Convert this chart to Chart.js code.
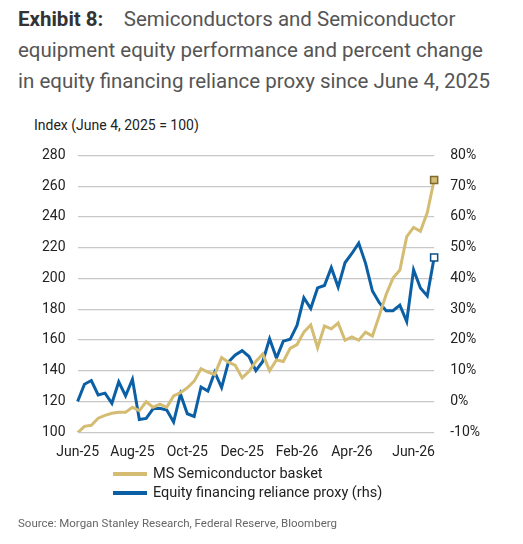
<!DOCTYPE html>
<html><head><meta charset="utf-8">
<script src="https://cdn.jsdelivr.net/npm/chart.js@4"></script>
<style>
body{margin:0;background:#fff;font-family:Roboto,"Liberation Sans",sans-serif;color:#555;width:523px;height:544px;position:relative;overflow:hidden}
#title{position:absolute;left:18px;top:4px;font-size:20.5px;line-height:31px;color:#555;width:485px}
#title b{color:#333}
#ytitle{position:absolute;left:34px;top:117px;font-size:14px;color:#222}
#wrap{position:absolute;left:0;top:135px;width:523px;height:330px}
#legend{position:absolute;left:113px;top:464px;font-size:14.5px;color:#222;line-height:19px}
#legend span.l{display:inline-block;width:34px;height:4px;vertical-align:middle;margin-right:6px}
#src{position:absolute;left:18px;top:516px;font-size:11.5px;color:#666}
</style></head><body>
<div id="title"><b>Exhibit 8:</b>&nbsp;&nbsp;&nbsp; Semiconductors and Semiconductor equipment equity performance and percent change in equity financing reliance proxy since June 4, 2025</div>
<div id="ytitle">Index (June 4, 2025 = 100)</div>
<div id="wrap"><canvas id="c"></canvas></div>
<div id="legend"><div><span class="l" style="background:#D4BC72"></span>MS Semiconductor basket</div><div><span class="l" style="background:#0A5FA5"></span>Equity financing reliance proxy (rhs)</div></div>
<div id="src">Source: Morgan Stanley Research, Federal Reserve, Bloomberg</div>
<script>
const tickNames = {0:'Jun-25',8:'Aug-25',16:'Oct-25',24:'Dec-25',32:'Feb-26',40:'Apr-26',49:'Jun-26'};
const semis = [99.6,103.8,104.5,109.1,110.9,112.3,113,113,116.2,114,119.8,116.2,118.3,116.2,123.6,125.7,128.9,133.2,141.3,139.1,137.5,148.5,145.5,143.4,135.3,139.6,146,150.9,140,147,146,154.5,157,165.1,169.8,154.9,169,167.2,171,159.8,161.9,159.8,165.1,162.6,175.8,189.6,200.2,205.5,227.2,233.2,230.7,242.8,264];
const proxy = [0,5.6,6.8,2.1,2.7,-0.6,6.4,1.8,7.2,-5.9,-5.5,-2.4,-2.2,-2.8,-6.7,2.4,-4.0,-4.9,4.7,3.4,9.5,4.5,12.8,15.1,16.5,14.6,10.0,13.0,20.4,14.1,19.6,20.2,24.7,33.7,30.2,36.9,37.7,43.5,37.2,45.1,48.1,51.5,44.9,35.9,32.1,29.5,29.5,31.3,26.0,42.8,36.9,34.3,46.8];
const labels = semis.map((_, i) => tickNames[i] || '');
const last = semis.length - 1;
const ptR = (c) => c.dataIndex === last ? 5 : 0;
new Chart(document.getElementById('c'), {
  type: 'line',
  data: { labels, datasets: [
    {data: semis, yAxisID: 'y', borderColor: '#D4BC72', borderWidth: 3, pointStyle: 'rect', pointRadius: ptR, pointBorderColor: '#7E6A32', pointBackgroundColor: '#D4BC72', pointBorderWidth: 1.5, tension: 0},
    {data: proxy, yAxisID: 'y1', borderColor: '#0A5FA5', borderWidth: 3, pointStyle: 'rect', pointRadius: ptR, pointBorderColor: '#0A4E88', pointBackgroundColor: '#ffffff', pointBorderWidth: 1.5, tension: 0}
  ]},
  options: {
    responsive: true, maintainAspectRatio: false, animation: false,
    layout: {padding: {left: 30, right: 35, top: 13, bottom: 0}},
    plugins: {legend: {display: false}, tooltip: {enabled: false}},
    scales: {
      x: {grid: {display: false}, border: {display: false},
          ticks: {autoSkip: false, maxRotation: 0, color: '#222', font: {size: 14, family: 'Roboto'}, padding: 4}},
      y: {min: 100, max: 280, ticks: {stepSize: 20, color: '#222', font: {size: 14, family: 'Roboto'}, padding: 12},
          grid: {color: '#c8c8c8', lineWidth: 1.3, drawTicks: false}, border: {display: false}},
      y1: {position: 'right', min: -10, max: 80, ticks: {stepSize: 10, color: '#222', font: {size: 14, family: 'Roboto'}, padding: 8, callback: v => v + '%'},
          grid: {display: false}, border: {display: false}}
    }
  }
});
</script>
</body></html>
